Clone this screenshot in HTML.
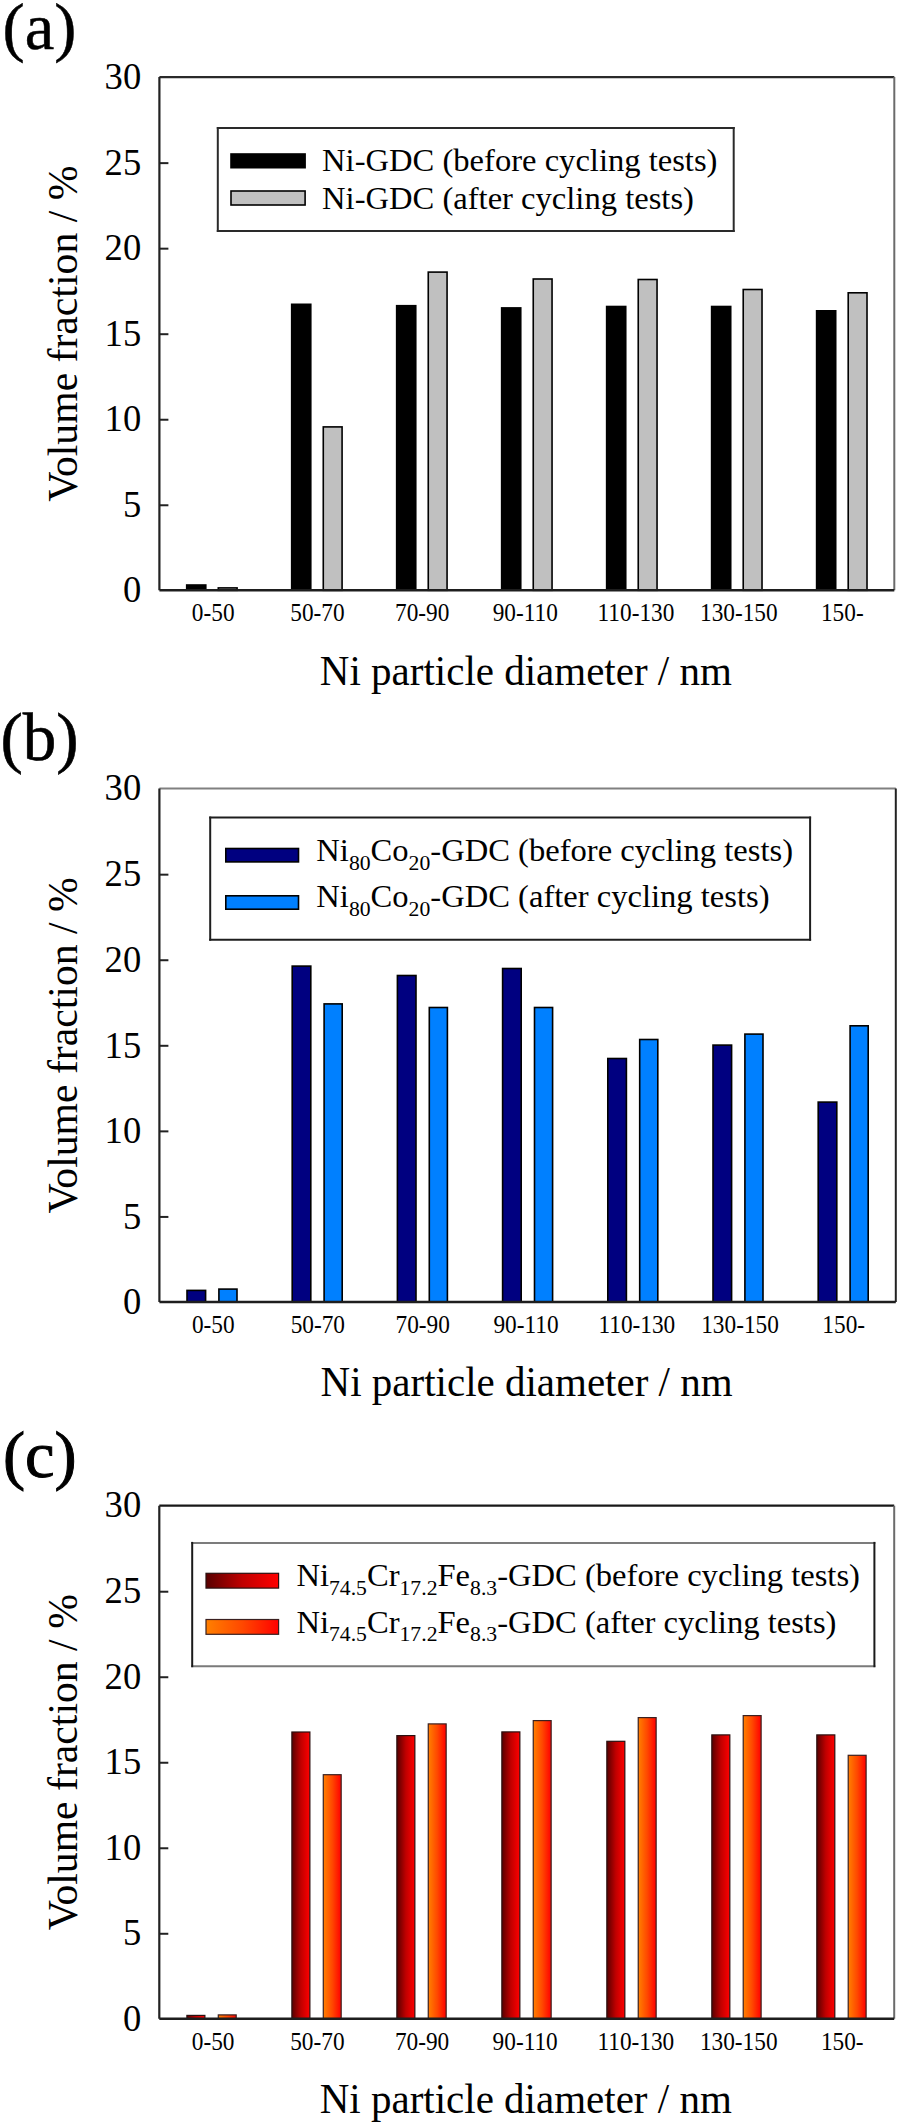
<!DOCTYPE html><html><head><meta charset="utf-8"><style>html,body{margin:0;padding:0;background:#fff;}svg{display:block}text{font-family:"Liberation Serif", serif;fill:#000}</style></head><body>
<svg width="900" height="2125" viewBox="0 0 900 2125">
<defs><linearGradient id="gdr" x1="0" y1="0" x2="1" y2="0"><stop offset="0" stop-color="#580000"/><stop offset="0.5" stop-color="#c00000"/><stop offset="1" stop-color="#ff0000"/></linearGradient><linearGradient id="gor" x1="0" y1="0" x2="1" y2="0"><stop offset="0" stop-color="#ff8000"/><stop offset="0.5" stop-color="#ff4800"/><stop offset="1" stop-color="#ff0000"/></linearGradient></defs>
<rect width="900" height="2125" fill="#fff"/>
<g>
<rect x="185.89" y="584.20" width="20.70" height="6.10" fill="#000"/>
<rect x="218.29" y="587.90" width="18.80" height="2.40" fill="#c0c0c0" stroke="#000" stroke-width="1.6"/>
<rect x="290.88" y="303.50" width="20.70" height="286.80" fill="#000"/>
<rect x="323.28" y="426.90" width="18.80" height="163.40" fill="#c0c0c0" stroke="#000" stroke-width="1.6"/>
<rect x="395.86" y="304.90" width="20.70" height="285.40" fill="#000"/>
<rect x="428.26" y="272.10" width="18.80" height="318.20" fill="#c0c0c0" stroke="#000" stroke-width="1.6"/>
<rect x="500.85" y="307.10" width="20.70" height="283.20" fill="#000"/>
<rect x="533.25" y="279.00" width="18.80" height="311.30" fill="#c0c0c0" stroke="#000" stroke-width="1.6"/>
<rect x="605.84" y="305.70" width="20.70" height="284.60" fill="#000"/>
<rect x="638.24" y="279.50" width="18.80" height="310.80" fill="#c0c0c0" stroke="#000" stroke-width="1.6"/>
<rect x="710.82" y="305.70" width="20.70" height="284.60" fill="#000"/>
<rect x="743.22" y="289.50" width="18.80" height="300.80" fill="#c0c0c0" stroke="#000" stroke-width="1.6"/>
<rect x="815.81" y="310.00" width="20.70" height="280.30" fill="#000"/>
<rect x="848.21" y="292.80" width="18.80" height="297.50" fill="#c0c0c0" stroke="#000" stroke-width="1.6"/>
<path d="M159.40 77.10 H894.30" fill="none" stroke="#2a2a2a" stroke-width="2.3"/>
<path d="M894.30 77.10 V590.30" fill="none" stroke="#6b6b6b" stroke-width="2"/>
<path d="M159.40 590.30 V77.10" fill="none" stroke="#222" stroke-width="2.2" stroke-linejoin="round"/>
<path d="M159.40 590.30 H894.30" fill="none" stroke="#1e1e1e" stroke-width="2.4"/>
<text transform="translate(141.2 602.00) scale(1 1.02)" font-size="36.6" text-anchor="end">0</text>
<path d="M159.40 505.27 H168.40" stroke="#222" stroke-width="2"/>
<text transform="translate(141.2 516.97) scale(1 1.02)" font-size="36.6" text-anchor="end">5</text>
<path d="M159.40 419.73 H168.40" stroke="#222" stroke-width="2"/>
<text transform="translate(141.2 431.43) scale(1 1.02)" font-size="36.6" text-anchor="end">10</text>
<path d="M159.40 334.20 H168.40" stroke="#222" stroke-width="2"/>
<text transform="translate(141.2 345.90) scale(1 1.02)" font-size="36.6" text-anchor="end">15</text>
<path d="M159.40 248.67 H168.40" stroke="#222" stroke-width="2"/>
<text transform="translate(141.2 260.37) scale(1 1.02)" font-size="36.6" text-anchor="end">20</text>
<path d="M159.40 163.13 H168.40" stroke="#222" stroke-width="2"/>
<text transform="translate(141.2 174.83) scale(1 1.02)" font-size="36.6" text-anchor="end">25</text>
<text transform="translate(141.2 88.80) scale(1 1.02)" font-size="36.6" text-anchor="end">30</text>
<text transform="translate(213.19 621.10) scale(1 1.07)" font-size="23.3" text-anchor="middle">0-50</text>
<text transform="translate(317.48 621.10) scale(1 1.07)" font-size="23.3" text-anchor="middle">50-70</text>
<text transform="translate(422.16 621.10) scale(1 1.07)" font-size="23.3" text-anchor="middle">70-90</text>
<text transform="translate(525.25 621.10) scale(1 1.07)" font-size="23.3" text-anchor="middle">90-110</text>
<text transform="translate(635.94 621.10) scale(1 1.07)" font-size="23.3" text-anchor="middle">110-130</text>
<text transform="translate(738.82 621.10) scale(1 1.07)" font-size="23.3" text-anchor="middle">130-150</text>
<text transform="translate(842.31 621.10) scale(1 1.07)" font-size="23.3" text-anchor="middle">150-</text>
<text transform="translate(525.85 685.30) scale(1 1.03)" font-size="41" text-anchor="middle">Ni particle diameter / nm</text>
<text transform="translate(77.3 333.70) rotate(-90) scale(1 1.03)" x="0" y="0" font-size="41.7" text-anchor="middle">Volume fraction / %</text>
<text x="2.6" y="48.5" font-size="66.5" stroke="#000" stroke-width="0.5">(a)</text>
<rect x="217.80" y="128.00" width="515.90" height="102.90" fill="#fff"/>
<path d="M216.80 128.00 H734.70" stroke="#2a2a2a" stroke-width="2"/>
<path d="M216.80 230.90 H734.70" stroke="#2a2a2a" stroke-width="2"/>
<path d="M733.70 127.00 V231.90" stroke="#2a2a2a" stroke-width="2"/>
<path d="M217.80 127.00 V231.90" stroke="#2a2a2a" stroke-width="2"/>
<rect x="230.20" y="153.20" width="75.70" height="15.30" fill="#000"/>
<rect x="231.00" y="191.00" width="74.10" height="14.00" fill="#c0c0c0" stroke="#000" stroke-width="1.6"/>
<text x="322.10" y="171.30" font-size="32.6">Ni-GDC (before cycling tests)</text>
<text x="322.10" y="208.70" font-size="32.6">Ni-GDC (after cycling tests)</text>
<rect x="187.00" y="1290.40" width="18.60" height="11.60" fill="#000080" stroke="#000" stroke-width="1.6"/>
<rect x="218.90" y="1289.10" width="18.10" height="12.90" fill="#0080ff" stroke="#000" stroke-width="1.6"/>
<rect x="292.20" y="966.10" width="18.60" height="335.90" fill="#000080" stroke="#000" stroke-width="1.6"/>
<rect x="324.10" y="1003.90" width="18.10" height="298.10" fill="#0080ff" stroke="#000" stroke-width="1.6"/>
<rect x="397.40" y="975.50" width="18.60" height="326.50" fill="#000080" stroke="#000" stroke-width="1.6"/>
<rect x="429.30" y="1007.50" width="18.10" height="294.50" fill="#0080ff" stroke="#000" stroke-width="1.6"/>
<rect x="502.60" y="968.50" width="18.60" height="333.50" fill="#000080" stroke="#000" stroke-width="1.6"/>
<rect x="534.50" y="1007.50" width="18.10" height="294.50" fill="#0080ff" stroke="#000" stroke-width="1.6"/>
<rect x="607.80" y="1058.50" width="18.60" height="243.50" fill="#000080" stroke="#000" stroke-width="1.6"/>
<rect x="639.70" y="1039.50" width="18.10" height="262.50" fill="#0080ff" stroke="#000" stroke-width="1.6"/>
<rect x="713.00" y="1045.10" width="18.60" height="256.90" fill="#000080" stroke="#000" stroke-width="1.6"/>
<rect x="744.90" y="1034.10" width="18.10" height="267.90" fill="#0080ff" stroke="#000" stroke-width="1.6"/>
<rect x="818.20" y="1102.10" width="18.60" height="199.90" fill="#000080" stroke="#000" stroke-width="1.6"/>
<rect x="850.10" y="1025.80" width="18.10" height="276.20" fill="#0080ff" stroke="#000" stroke-width="1.6"/>
<path d="M159.40 788.60 H895.80" fill="none" stroke="#808080" stroke-width="2.0"/>
<path d="M895.80 788.60 V1302.00" fill="none" stroke="#222" stroke-width="2"/>
<path d="M159.40 1302.00 V788.60" fill="none" stroke="#222" stroke-width="2.2" stroke-linejoin="round"/>
<path d="M159.40 1302.00 H895.80" fill="none" stroke="#1e1e1e" stroke-width="2.4"/>
<text transform="translate(141.2 1313.70) scale(1 1.02)" font-size="36.6" text-anchor="end">0</text>
<path d="M159.40 1216.93 H168.40" stroke="#222" stroke-width="2"/>
<text transform="translate(141.2 1228.63) scale(1 1.02)" font-size="36.6" text-anchor="end">5</text>
<path d="M159.40 1131.37 H168.40" stroke="#222" stroke-width="2"/>
<text transform="translate(141.2 1143.07) scale(1 1.02)" font-size="36.6" text-anchor="end">10</text>
<path d="M159.40 1045.80 H168.40" stroke="#222" stroke-width="2"/>
<text transform="translate(141.2 1057.50) scale(1 1.02)" font-size="36.6" text-anchor="end">15</text>
<path d="M159.40 960.23 H168.40" stroke="#222" stroke-width="2"/>
<text transform="translate(141.2 971.93) scale(1 1.02)" font-size="36.6" text-anchor="end">20</text>
<path d="M159.40 874.67 H168.40" stroke="#222" stroke-width="2"/>
<text transform="translate(141.2 886.37) scale(1 1.02)" font-size="36.6" text-anchor="end">25</text>
<text transform="translate(141.2 800.30) scale(1 1.02)" font-size="36.6" text-anchor="end">30</text>
<text transform="translate(213.30 1332.80) scale(1 1.07)" font-size="23.3" text-anchor="middle">0-50</text>
<text transform="translate(317.80 1332.80) scale(1 1.07)" font-size="23.3" text-anchor="middle">50-70</text>
<text transform="translate(422.70 1332.80) scale(1 1.07)" font-size="23.3" text-anchor="middle">70-90</text>
<text transform="translate(526.00 1332.80) scale(1 1.07)" font-size="23.3" text-anchor="middle">90-110</text>
<text transform="translate(636.90 1332.80) scale(1 1.07)" font-size="23.3" text-anchor="middle">110-130</text>
<text transform="translate(740.00 1332.80) scale(1 1.07)" font-size="23.3" text-anchor="middle">130-150</text>
<text transform="translate(843.70 1332.80) scale(1 1.07)" font-size="23.3" text-anchor="middle">150-</text>
<text transform="translate(526.60 1395.60) scale(1 1.03)" font-size="41" text-anchor="middle">Ni particle diameter / nm</text>
<text transform="translate(77.3 1045.30) rotate(-90) scale(1 1.03)" x="0" y="0" font-size="41.7" text-anchor="middle">Volume fraction / %</text>
<text x="0.4" y="759.7" font-size="67" stroke="#000" stroke-width="0.6">(b)</text>
<rect x="210.20" y="817.60" width="599.90" height="122.10" fill="#fff"/>
<path d="M209.20 817.60 H811.10" stroke="#1e1e1e" stroke-width="2"/>
<path d="M209.20 939.70 H811.10" stroke="#1e1e1e" stroke-width="2"/>
<path d="M810.10 816.60 V940.70" stroke="#1e1e1e" stroke-width="2"/>
<path d="M210.20 816.60 V940.70" stroke="#1e1e1e" stroke-width="2"/>
<rect x="225.80" y="848.50" width="72.70" height="13.40" fill="#000080" stroke="#000" stroke-width="1.6"/>
<rect x="225.80" y="895.80" width="72.70" height="13.40" fill="#0080ff" stroke="#000" stroke-width="1.6"/>
<text x="316.30" y="861.20" font-size="32.6">Ni<tspan font-size="21.7" dy="8.4">80</tspan><tspan dy="-8.4">Co</tspan><tspan font-size="21.7" dy="8.4">20</tspan><tspan dy="-8.4">-GDC (before cycling tests)</tspan></text>
<text x="316.30" y="907.40" font-size="32.6">Ni<tspan font-size="21.7" dy="8.4">80</tspan><tspan dy="-8.4">Co</tspan><tspan font-size="21.7" dy="8.4">20</tspan><tspan dy="-8.4">-GDC (after cycling tests)</tspan></text>
<rect x="186.89" y="2015.40" width="18.00" height="3.40" fill="url(#gdr)" stroke="#2a1010" stroke-width="1.2"/>
<rect x="218.29" y="2014.90" width="17.90" height="3.90" fill="url(#gor)" stroke="#3a2020" stroke-width="1.2"/>
<rect x="291.88" y="1732.00" width="18.00" height="286.80" fill="url(#gdr)" stroke="#2a1010" stroke-width="1.2"/>
<rect x="323.28" y="1774.70" width="17.90" height="244.10" fill="url(#gor)" stroke="#3a2020" stroke-width="1.2"/>
<rect x="396.86" y="1735.60" width="18.00" height="283.20" fill="url(#gdr)" stroke="#2a1010" stroke-width="1.2"/>
<rect x="428.26" y="1723.90" width="17.90" height="294.90" fill="url(#gor)" stroke="#3a2020" stroke-width="1.2"/>
<rect x="501.85" y="1731.90" width="18.00" height="286.90" fill="url(#gdr)" stroke="#2a1010" stroke-width="1.2"/>
<rect x="533.25" y="1720.60" width="17.90" height="298.20" fill="url(#gor)" stroke="#3a2020" stroke-width="1.2"/>
<rect x="606.84" y="1741.30" width="18.00" height="277.50" fill="url(#gdr)" stroke="#2a1010" stroke-width="1.2"/>
<rect x="638.24" y="1717.60" width="17.90" height="301.20" fill="url(#gor)" stroke="#3a2020" stroke-width="1.2"/>
<rect x="711.82" y="1734.90" width="18.00" height="283.90" fill="url(#gdr)" stroke="#2a1010" stroke-width="1.2"/>
<rect x="743.22" y="1715.60" width="17.90" height="303.20" fill="url(#gor)" stroke="#3a2020" stroke-width="1.2"/>
<rect x="816.81" y="1734.90" width="18.00" height="283.90" fill="url(#gdr)" stroke="#2a1010" stroke-width="1.2"/>
<rect x="848.21" y="1755.30" width="17.90" height="263.50" fill="url(#gor)" stroke="#3a2020" stroke-width="1.2"/>
<path d="M159.30 1505.70 H894.20" fill="none" stroke="#181818" stroke-width="2.3"/>
<path d="M894.20 1505.70 V2018.80" fill="none" stroke="#6b6b6b" stroke-width="2"/>
<path d="M159.30 2018.80 V1505.70" fill="none" stroke="#222" stroke-width="2.2" stroke-linejoin="round"/>
<path d="M159.30 2018.80 H894.20" fill="none" stroke="#1e1e1e" stroke-width="2.4"/>
<text transform="translate(141.2 2030.50) scale(1 1.02)" font-size="36.6" text-anchor="end">0</text>
<path d="M159.30 1933.78 H168.30" stroke="#222" stroke-width="2"/>
<text transform="translate(141.2 1945.48) scale(1 1.02)" font-size="36.6" text-anchor="end">5</text>
<path d="M159.30 1848.27 H168.30" stroke="#222" stroke-width="2"/>
<text transform="translate(141.2 1859.97) scale(1 1.02)" font-size="36.6" text-anchor="end">10</text>
<path d="M159.30 1762.75 H168.30" stroke="#222" stroke-width="2"/>
<text transform="translate(141.2 1774.45) scale(1 1.02)" font-size="36.6" text-anchor="end">15</text>
<path d="M159.30 1677.23 H168.30" stroke="#222" stroke-width="2"/>
<text transform="translate(141.2 1688.93) scale(1 1.02)" font-size="36.6" text-anchor="end">20</text>
<path d="M159.30 1591.72 H168.30" stroke="#222" stroke-width="2"/>
<text transform="translate(141.2 1603.42) scale(1 1.02)" font-size="36.6" text-anchor="end">25</text>
<text transform="translate(141.2 1517.40) scale(1 1.02)" font-size="36.6" text-anchor="end">30</text>
<text transform="translate(213.09 2049.60) scale(1 1.07)" font-size="23.3" text-anchor="middle">0-50</text>
<text transform="translate(317.38 2049.60) scale(1 1.07)" font-size="23.3" text-anchor="middle">50-70</text>
<text transform="translate(422.06 2049.60) scale(1 1.07)" font-size="23.3" text-anchor="middle">70-90</text>
<text transform="translate(525.15 2049.60) scale(1 1.07)" font-size="23.3" text-anchor="middle">90-110</text>
<text transform="translate(635.84 2049.60) scale(1 1.07)" font-size="23.3" text-anchor="middle">110-130</text>
<text transform="translate(738.72 2049.60) scale(1 1.07)" font-size="23.3" text-anchor="middle">130-150</text>
<text transform="translate(842.21 2049.60) scale(1 1.07)" font-size="23.3" text-anchor="middle">150-</text>
<text transform="translate(525.75 2113.30) scale(1 1.03)" font-size="41" text-anchor="middle">Ni particle diameter / nm</text>
<text transform="translate(77.3 1762.25) rotate(-90) scale(1 1.03)" x="0" y="0" font-size="41.7" text-anchor="middle">Volume fraction / %</text>
<text x="2.9" y="1477.4" font-size="66.5" stroke="#000" stroke-width="1.0">(c)</text>
<rect x="192.20" y="1542.90" width="682.20" height="123.30" fill="#fff"/>
<path d="M191.20 1542.90 H875.40" stroke="#7c7c7c" stroke-width="2"/>
<path d="M191.20 1666.20 H875.40" stroke="#7a7a7a" stroke-width="2"/>
<path d="M874.40 1541.90 V1667.20" stroke="#1a1a1a" stroke-width="2"/>
<path d="M192.20 1541.90 V1667.20" stroke="#1a1a1a" stroke-width="2"/>
<rect x="206.00" y="1573.30" width="72.60" height="14.80" fill="url(#gdr)" stroke="#2a1010" stroke-width="1.2"/>
<rect x="206.00" y="1619.50" width="72.60" height="14.80" fill="url(#gor)" stroke="#3a2020" stroke-width="1.2"/>
<text x="296.40" y="1586.20" font-size="32.6">Ni<tspan font-size="21.7" dy="8.4">74.5</tspan><tspan dy="-8.4">Cr</tspan><tspan font-size="21.7" dy="8.4">17.2</tspan><tspan dy="-8.4">Fe</tspan><tspan font-size="21.7" dy="8.4">8.3</tspan><tspan dy="-8.4">-GDC (before cycling tests)</tspan></text>
<text x="296.40" y="1632.80" font-size="32.6">Ni<tspan font-size="21.7" dy="8.4">74.5</tspan><tspan dy="-8.4">Cr</tspan><tspan font-size="21.7" dy="8.4">17.2</tspan><tspan dy="-8.4">Fe</tspan><tspan font-size="21.7" dy="8.4">8.3</tspan><tspan dy="-8.4">-GDC (after cycling tests)</tspan></text>
</g>
</svg></body></html>
